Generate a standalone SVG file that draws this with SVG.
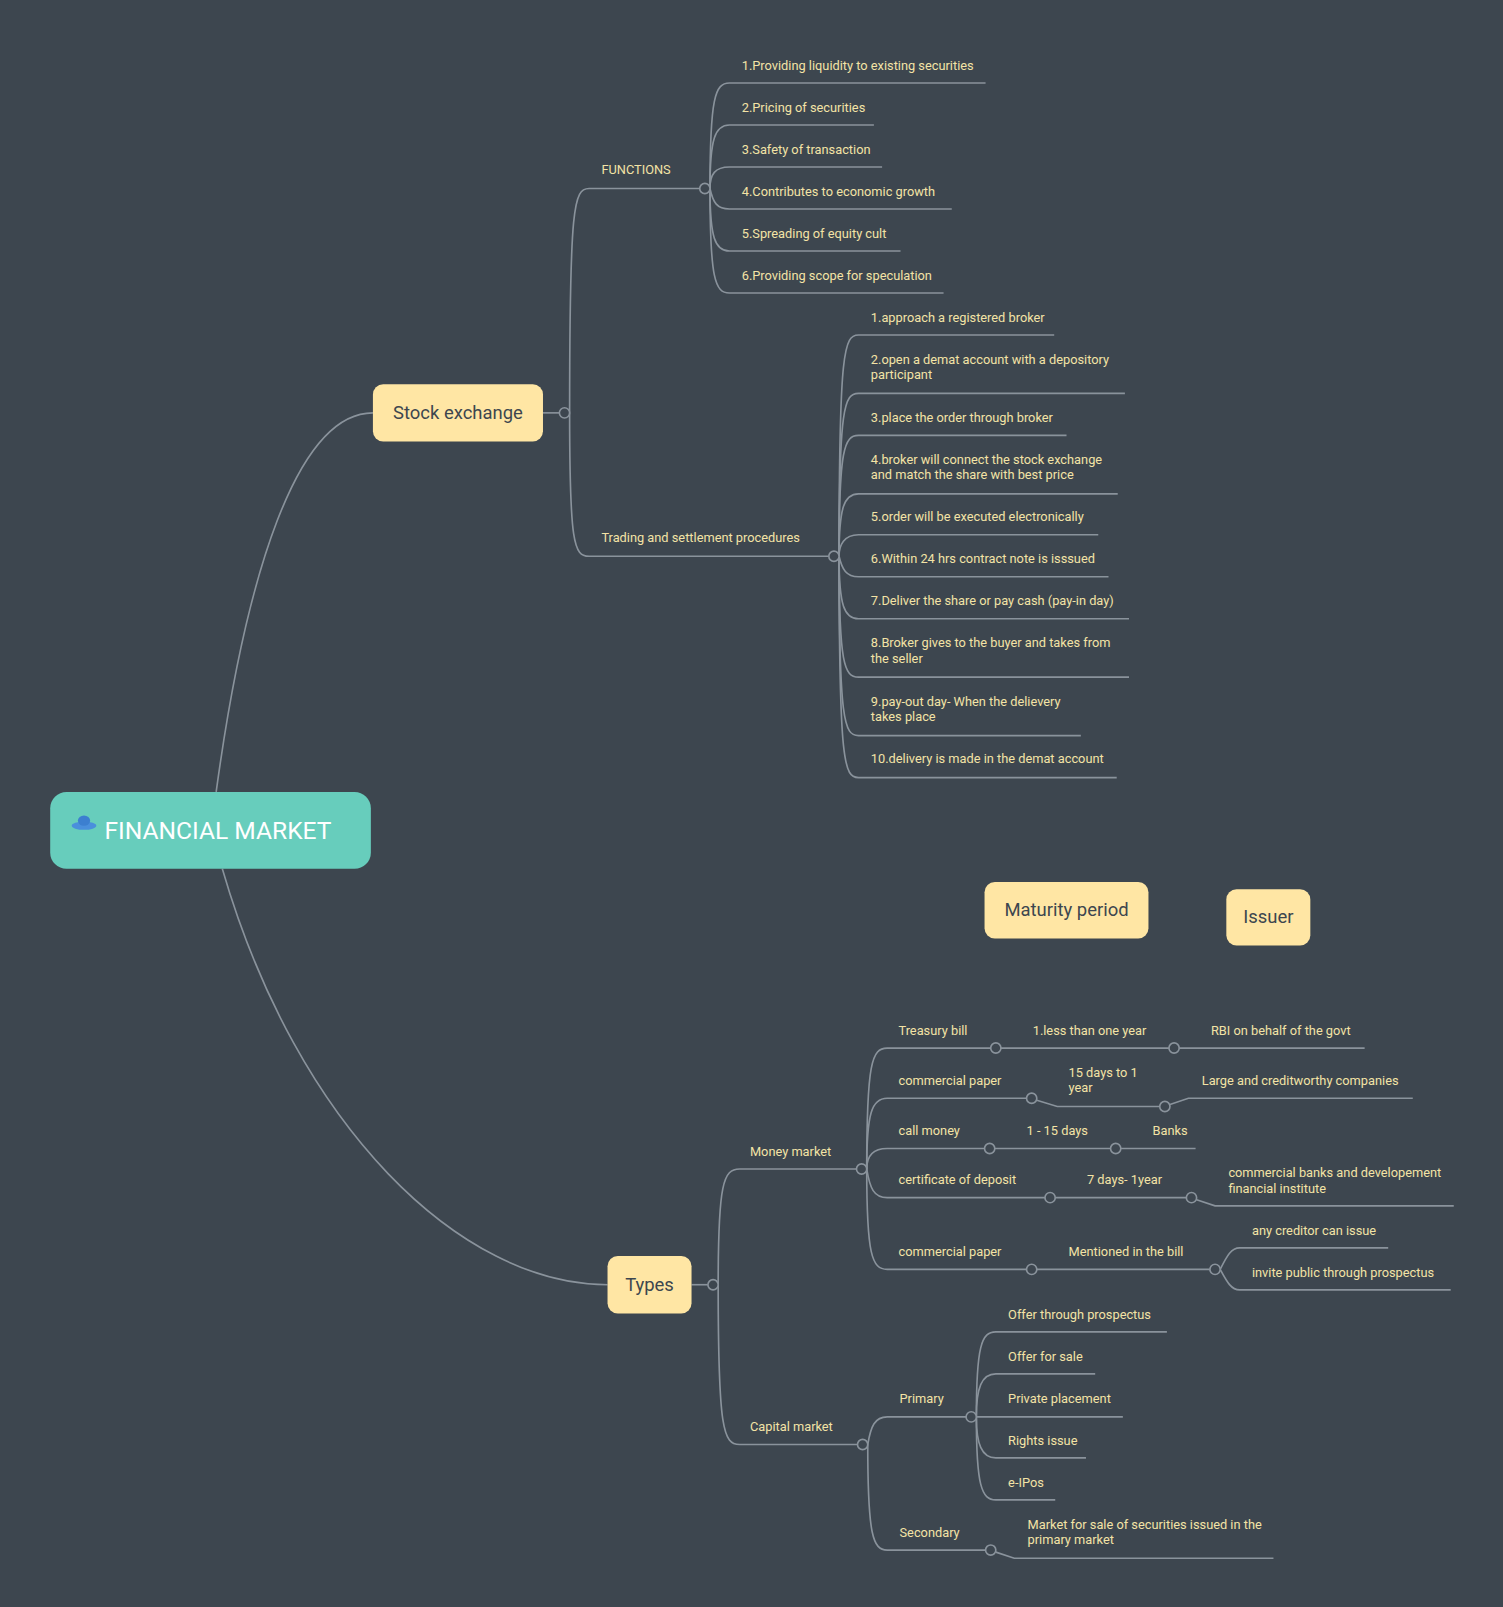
<svg xmlns="http://www.w3.org/2000/svg" width="1503" height="1607" viewBox="0 0 1503 1607">
<style>
.c{fill:none;stroke:#8a939c;stroke-width:1.6}
.k{fill:#3d464f;stroke:#8a939c;stroke-width:1.6}
.t{font-family:Roboto,"Liberation Sans",sans-serif;font-size:12.5px;fill:#f3e3a6}
.n{fill:#ffe6a4}
.nt{font-family:Roboto,"Liberation Sans",sans-serif;font-size:18px;fill:#3d464f;text-anchor:middle}
</style>
<rect width="1503" height="1607" fill="#3d464f"/>
<g transform="scale(1.0245)">
<g id="connectors">
<path class="c" d="M211 773 C240 560 290 403 364 403"/>
<path class="c" d="M217 848 C290 1100 450 1254 593 1254"/>
<path class="c" d="M530 403 H546"/>
<path class="c" d="M556 403 C556 200 560 184 575 184 H683"/>
<path class="c" d="M556 403 C556 530 560 543 575 543 H809"/>
<path class="c" d="M693 184 C693 95 698 81 712 81 H962"/>
<path class="c" d="M693 184 C693 135 698 122 712 122 H853"/>
<path class="c" d="M693 184 C693 170 698 163 712 163 H861"/>
<path class="c" d="M693 184 C696 198 700 204 712 204 H929"/>
<path class="c" d="M693 184 C693 232 698 245 712 245 H879"/>
<path class="c" d="M693 184 C693 273 698 286 712 286 H921"/>
<path class="c" d="M819 543 C819 340 824 327 838 327 H1029"/>
<path class="c" d="M819 543 C819 397 824 384 838 384 H1098"/>
<path class="c" d="M819 543 C819 438 824 425 838 425 H1041"/>
<path class="c" d="M819 543 C819 495 824 482 838 482 H1091"/>
<path class="c" d="M819 543 C819 532 824 522 838 522 H1072"/>
<path class="c" d="M819 543 C822 556 826 563 838 563 H1082"/>
<path class="c" d="M819 543 C819 591 824 604 838 604 H1102"/>
<path class="c" d="M819 543 C819 648 824 661 838 661 H1102"/>
<path class="c" d="M819 543 C819 705 824 718 838 718 H1055"/>
<path class="c" d="M819 543 C819 746 824 759 838 759 H1090"/>
<path class="c" d="M675 1254 H691"/>
<path class="c" d="M701 1254 C701 1155 706 1141 722 1141 H836"/>
<path class="c" d="M701 1254 C701 1396 706 1410 722 1410 H837"/>
<path class="c" d="M846 1141 C846 1037 851 1023 866 1023 H967"/><path class="c" d="M977 1023 H1141 M1151 1023 H1332"/>
<path class="c" d="M846 1141 C846 1086 851 1072 866 1072 H1002"/><path class="c" d="M1012 1074 L1032 1080 H1132 M1142 1078 L1160 1072 H1379"/>
<path class="c" d="M846 1141 C846 1130 851 1121 866 1121 H961"/><path class="c" d="M971 1121 H1084 M1094 1121 H1167"/>
<path class="c" d="M846 1141 C849 1160 853 1169 866 1169 H1020"/><path class="c" d="M1030 1169 H1158 M1168 1171 L1186 1177 H1419"/>
<path class="c" d="M846 1141 C846 1225 851 1239 866 1239 H1002"/><path class="c" d="M1012 1239 H1181"/>
<path class="c" d="M1191 1239 C1198 1225 1202 1218 1210 1218 H1355"/>
<path class="c" d="M1191 1239 C1198 1252 1202 1259 1210 1259 H1416"/>
<path class="c" d="M847 1410 C850 1392 854 1383 866 1383 H943"/>
<path class="c" d="M847 1410 C847 1499 852 1513 866 1513 H962"/><path class="c" d="M972 1515 L990 1521 H1243"/>
<path class="c" d="M953 1383 C953 1314 958 1300 972 1300 H1139"/>
<path class="c" d="M953 1383 C953 1355 958 1341 972 1341 H1069"/>
<path class="c" d="M953 1383 H1096"/>
<path class="c" d="M953 1383 C953 1409 958 1423 972 1423 H1060"/>
<path class="c" d="M953 1383 C953 1450 958 1464 972 1464 H1030"/>
<circle class="k" cx="551" cy="403" r="5"/><circle class="k" cx="688" cy="184" r="5"/><circle class="k" cx="814" cy="543" r="5"/>
<circle class="k" cx="696" cy="1254" r="5"/><circle class="k" cx="841" cy="1141" r="5"/><circle class="k" cx="842" cy="1410" r="5"/>
<circle class="k" cx="972" cy="1023" r="5"/><circle class="k" cx="1146" cy="1023" r="5"/>
<circle class="k" cx="1007" cy="1072" r="5"/><circle class="k" cx="1137" cy="1080" r="5"/>
<circle class="k" cx="966" cy="1121" r="5"/><circle class="k" cx="1089" cy="1121" r="5"/>
<circle class="k" cx="1025" cy="1169" r="5"/><circle class="k" cx="1163" cy="1169" r="5"/>
<circle class="k" cx="1007" cy="1239" r="5"/><circle class="k" cx="1186" cy="1239" r="5"/>
<circle class="k" cx="948" cy="1383" r="5"/><circle class="k" cx="967" cy="1513" r="5"/>
</g>
<g id="root"><rect x="49" y="773" width="313" height="75" rx="16" fill="#67cdbc"/>
<ellipse cx="82" cy="806" rx="12" ry="4" fill="#4a8fdc"/><ellipse cx="82" cy="801" rx="6" ry="5" fill="#3c7fd0"/>
<text x="102" y="819" font-family="Roboto,'Liberation Sans',sans-serif" font-size="24" fill="#fff">FINANCIAL MARKET</text></g>
<g id="stock"><rect class="n" x="364" y="375" width="166" height="56" rx="10"/><text class="nt" x="447" y="409">Stock exchange</text></g>
<g id="types"><rect class="n" x="593" y="1226" width="82" height="56" rx="10"/><text class="nt" x="634" y="1260">Types</text></g>
<g id="maturity"><rect class="n" x="961" y="861" width="160" height="55" rx="10"/><text class="nt" x="1041" y="894">Maturity period</text></g>
<g id="issuer"><rect class="n" x="1197" y="868" width="82" height="55" rx="10"/><text class="nt" x="1238" y="901">Issuer</text></g>
<g id="labels">
<text class="t" x="587" y="170">FUNCTIONS</text>
<text class="t" x="587" y="529">Trading and settlement procedures</text>
<text class="t" x="724" y="68">1.Providing liquidity to existing securities</text>
<text class="t" x="724" y="109">2.Pricing of securities</text>
<text class="t" x="724" y="150">3.Safety of transaction</text>
<text class="t" x="724" y="191">4.Contributes to economic growth</text>
<text class="t" x="724" y="232">5.Spreading of equity cult</text>
<text class="t" x="724" y="273">6.Providing scope for speculation</text>
<text class="t" x="850" y="314">1.approach a registered broker</text>
<text class="t" x="850" y="355">2.open a demat account with a depository</text><text class="t" x="850" y="370">participant</text>
<text class="t" x="850" y="412">3.place the order through broker</text>
<text class="t" x="850" y="453">4.broker will connect the stock exchange</text><text class="t" x="850" y="468">and match the share with best price</text>
<text class="t" x="850" y="509">5.order will be executed electronically</text>
<text class="t" x="850" y="550">6.Within 24 hrs contract note is isssued</text>
<text class="t" x="850" y="591">7.Deliver the share or pay cash (pay-in day)</text>
<text class="t" x="850" y="632">8.Broker gives  to the buyer and takes from</text><text class="t" x="850" y="647">the seller</text>
<text class="t" x="850" y="689">9.pay-out day- When the delievery</text><text class="t" x="850" y="704">takes place</text>
<text class="t" x="850" y="745">10.delivery is made in the demat account</text>
<text class="t" x="732" y="1128">Money market</text>
<text class="t" x="732" y="1397">Capital market</text>
<text class="t" x="877" y="1010">Treasury bill</text><text class="t" x="1008" y="1010">1.less than one year</text><text class="t" x="1182" y="1010">RBI on behalf of the govt</text>
<text class="t" x="877" y="1059">commercial paper</text><text class="t" x="1043" y="1051">15 days to 1</text><text class="t" x="1043" y="1066">year</text><text class="t" x="1173" y="1059">Large and creditworthy companies</text>
<text class="t" x="877" y="1108">call money</text><text class="t" x="1002" y="1108">1 - 15 days</text><text class="t" x="1125" y="1108">Banks</text>
<text class="t" x="877" y="1156">certificate of deposit</text><text class="t" x="1061" y="1156">7 days- 1year</text><text class="t" x="1199" y="1149">commercial banks and developement</text><text class="t" x="1199" y="1164">financial institute</text>
<text class="t" x="877" y="1226">commercial paper</text><text class="t" x="1043" y="1226">Mentioned in the bill</text>
<text class="t" x="1222" y="1205">any creditor can issue</text><text class="t" x="1222" y="1246">invite public through prospectus</text>
<text class="t" x="878" y="1369">Primary</text>
<text class="t" x="984" y="1287">Offer through prospectus</text>
<text class="t" x="984" y="1328">Offer for sale</text>
<text class="t" x="984" y="1369">Private placement</text>
<text class="t" x="984" y="1410">Rights issue</text>
<text class="t" x="984" y="1451">e-IPos</text>
<text class="t" x="878" y="1500">Secondary</text>
<text class="t" x="1003" y="1492">Market for sale of securities issued in the</text><text class="t" x="1003" y="1507">primary market</text>
</g>
</g>
</svg>
